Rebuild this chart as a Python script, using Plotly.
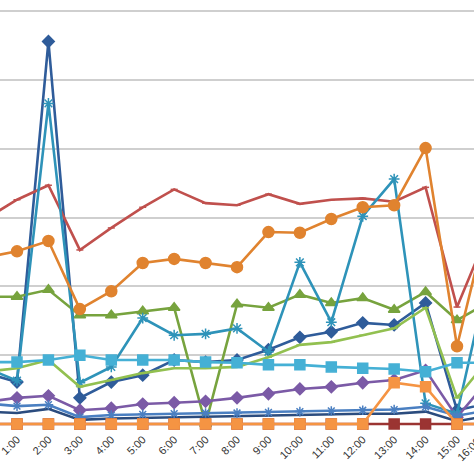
import plotly.graph_objects as go

hours = list(range(0, 17))
hour_labels = [f"{h}:00" for h in hours]

s_darkblue = [7.4, 6.1, 55.6, 3.8, 6.1, 7.1, 9.3, 9.0, 9.3, 10.8, 12.6, 13.4, 14.7, 14.4, 17.6, 2.0, 3.0]
s_red = [29.8, 32.6, 34.7, 25.3, 28.5, 31.5, 34.1, 32.1, 31.8, 33.4, 32.0, 32.6, 32.8, 32.3, 34.4, 17.0, 28.0]
s_green = [18.5, 18.5, 19.5, 15.8, 15.8, 16.4, 16.9, 0.0, 17.4, 16.9, 18.8, 17.6, 18.3, 16.6, 19.2, 15.1, 17.7]
s_purple = [3.2, 3.8, 4.1, 2.0, 2.3, 2.9, 3.1, 3.3, 3.8, 4.4, 5.1, 5.4, 6.0, 6.4, 7.8, 1.0, 6.4]
s_teal = [8.2, 6.3, 46.6, 6.0, 8.3, 15.4, 12.9, 13.1, 13.9, 10.5, 23.5, 14.8, 30.2, 35.6, 3.0, 1.5, 21.6]
s_orange = [24.2, 25.1, 26.6, 16.7, 19.3, 23.4, 24.0, 23.4, 22.8, 27.9, 27.8, 29.8, 31.5, 31.8, 40.1, 11.3, 30.0]
s_navy = [1.8, 1.6, 2.2, 0.6, 0.8, 0.9, 1.0, 1.1, 1.1, 1.2, 1.3, 1.4, 1.5, 1.5, 1.8, 0.4, 1.2]
s_medblue = [3.0, 2.6, 2.8, 1.0, 1.3, 1.4, 1.5, 1.6, 1.6, 1.7, 1.8, 1.9, 2.0, 2.1, 2.5, 1.2, 2.0]
s_lime = [7.6, 8.1, 9.3, 5.4, 6.4, 7.4, 8.1, 8.1, 8.3, 9.7, 11.5, 11.9, 12.9, 13.9, 16.9, 3.8, 9.4]
s_lightblue = [9.0, 9.0, 9.3, 10.0, 9.3, 9.3, 9.3, 9.0, 8.9, 8.6, 8.6, 8.3, 8.1, 8.0, 7.6, 8.9, 8.9]
s_darkred = [0.0] * 17
s_orangesq = [0, 0, 0, 0, 0, 0, 0, 0, 0, 0, 0, 0, 0, 6.0, 5.4, 0, 0]

series = [
    (s_darkblue, "#2F5C9A", "diamond", 9),
    (s_red, "#C0504D", "line-ew-open", 5),
    (s_green, "#77A33E", "triangle-up", 10),
    (s_purple, "#7B5AA6", "diamond", 9),
    (s_teal, "#2E93B9", "asterisk-open", 9),
    (s_orange, "#E0832F", "circle", 11),
    (s_navy, "#2B4C7E", "line-ew-open", 5),
    (s_medblue, "#4A7FC1", "asterisk-open", 8),
    (s_lime, "#92C050", "line-ew-open", 5),
    (s_lightblue, "#45B0D5", "square", 10),
    (s_darkred, "#9B3432", "square", 10),
    (s_orangesq, "#F59443", "square", 10),
]

fig = go.Figure()
for vals, col, sym, size in series:
    fig.add_trace(go.Scatter(
        x=hours, y=vals, mode="lines+markers",
        line=dict(color=col, width=2.6),
        marker=dict(symbol=sym, size=size, color=col, line=dict(color=col, width=1.5)),
        cliponaxis=False, showlegend=False,
    ))

label_font = dict(family="Liberation Sans, Arial, sans-serif", size=11, color="#333333")

fig.add_annotation(
    x=486 / 474, y=-6 / 426, xref="paper", yref="paper",
    text="16:00", textangle=-45, showarrow=False,
    xanchor="right", yanchor="top",
    font=label_font,
)

fig.update_layout(
    width=474, height=474,
    margin=dict(l=0, r=0, t=0, b=48, autoexpand=False),
    paper_bgcolor="white", plot_bgcolor="white",
    xaxis=dict(
        range=[1 - 17 / 31.43, 1 + (474 - 17) / 31.43],
        tickmode="array", tickvals=hours[1:16], ticktext=hour_labels[1:16],
        tickangle=-45, showgrid=False, zeroline=False, showline=False,
        tickfont=label_font, ticklabeloverflow="allow", automargin=False,
        ticks="", ticklabelstandoff=4,
    ),
    yaxis=dict(
        range=[-0.29, 61.63], dtick=10, tick0=0,
        showgrid=True, gridcolor="#CFCFCF", gridwidth=1.6, automargin=False,
        zeroline=False, showticklabels=False, showline=False,
    ),
)

fig.write_html("out.html")
